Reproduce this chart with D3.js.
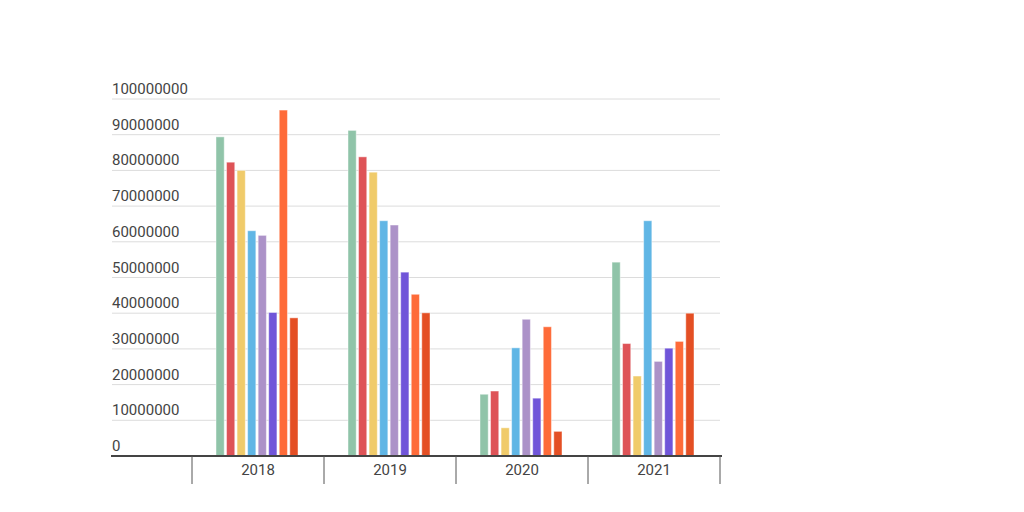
<!DOCTYPE html>
<html>
<head>
<meta charset="utf-8">
<script src="https://cdn.jsdelivr.net/npm/d3@7"></script>
<style>
  body { margin: 0; background: #fff; }
  svg { font-family: Roboto, "Noto Sans", sans-serif; }
</style>
</head>
<body>
<svg id="chart" width="1024" height="512"></svg>
<script>
// Data
const years = ["2018", "2019", "2020", "2021"];
const seriesNames = ["s1", "s2", "s3", "s4", "s5", "s6", "s7", "s8"];
const colors = ["#90c4a9", "#de5357", "#f0cb6a", "#60b6e5", "#ac92c8", "#7055d9", "#fe6b39", "#e44f24"];
const s1 = [89400000, 91200000, 17300000, 54300000];
const s2 = [82300000, 83800000, 18200000, 31500000];
const s3 = [80000000, 79500000, 7900000, 22400000];
const s4 = [63100000, 65900000, 30300000, 65900000];
const s5 = [61800000, 64700000, 38300000, 26500000];
const s6 = [40200000, 51500000, 16200000, 30200000];
const s7 = [96900000, 45300000, 36200000, 32100000];
const s8 = [38700000, 40100000, 6900000, 40000000];
const values = [s1, s2, s3, s4, s5, s6, s7, s8];
const yTicks = [0, 10000000, 20000000, 30000000, 40000000, 50000000, 60000000, 70000000, 80000000, 90000000, 100000000];

const svg = d3.select("#chart");
const left = 112, right = 720, baseY = 456, topY = 99;

const x = d3.scaleBand().domain(years).range([192, 720]);
const xInner = d3.scaleBand().domain(seriesNames).range([24, 106]).paddingInner(0.22);
const y = d3.scaleLinear().domain([0, 100000000]).range([baseY, topY]);

// gridlines + labels
const grid = svg.append("g");
grid.selectAll("line")
  .data(yTicks.slice(1))
  .join("line")
  .attr("x1", left).attr("x2", right)
  .attr("y1", d => y(d)).attr("y2", d => y(d))
  .attr("stroke", "#dcdcdc").attr("stroke-width", 1);

grid.selectAll("text")
  .data(yTicks)
  .join("text")
  .attr("x", left)
  .attr("y", d => y(d) - 5)
  .attr("fill", "#444")
  .attr("font-size", 15)
  .text(d => d);

// bars
const groups = svg.append("g").selectAll("g")
  .data(years)
  .join("g")
  .attr("transform", d => `translate(${x(d)},0)`);

groups.selectAll("rect")
  .data((d, i) => seriesNames.map((s, j) => ({ s, j, v: values[j][i] })))
  .join("rect")
  .attr("x", d => xInner(d.s))
  .attr("width", xInner.bandwidth())
  .attr("y", d => y(d.v))
  .attr("height", d => baseY - y(d.v))
  .attr("fill", d => colors[d.j])
  .attr("stroke", "#fff")
  .attr("stroke-opacity", 0.45)
  .attr("stroke-width", 1);

// x axis
svg.append("line")
  .attr("x1", left - 1).attr("x2", right + 2)
  .attr("y1", baseY).attr("y2", baseY)
  .attr("stroke", "#444").attr("stroke-width", 2);

const tickXs = years.map(d => x(d)).concat([x(years[years.length - 1]) + x.bandwidth()]);
svg.append("g").selectAll("line")
  .data(tickXs)
  .join("line")
  .attr("x1", d => d).attr("x2", d => d)
  .attr("y1", baseY).attr("y2", 484)
  .attr("stroke", "#555").attr("stroke-width", 1);

svg.append("g").selectAll("text")
  .data(years)
  .join("text")
  .attr("x", d => x(d) + x.bandwidth() / 2)
  .attr("y", 475)
  .attr("text-anchor", "middle")
  .attr("fill", "#444")
  .attr("font-size", 15)
  .text(d => d);
</script>
</body>
</html>
